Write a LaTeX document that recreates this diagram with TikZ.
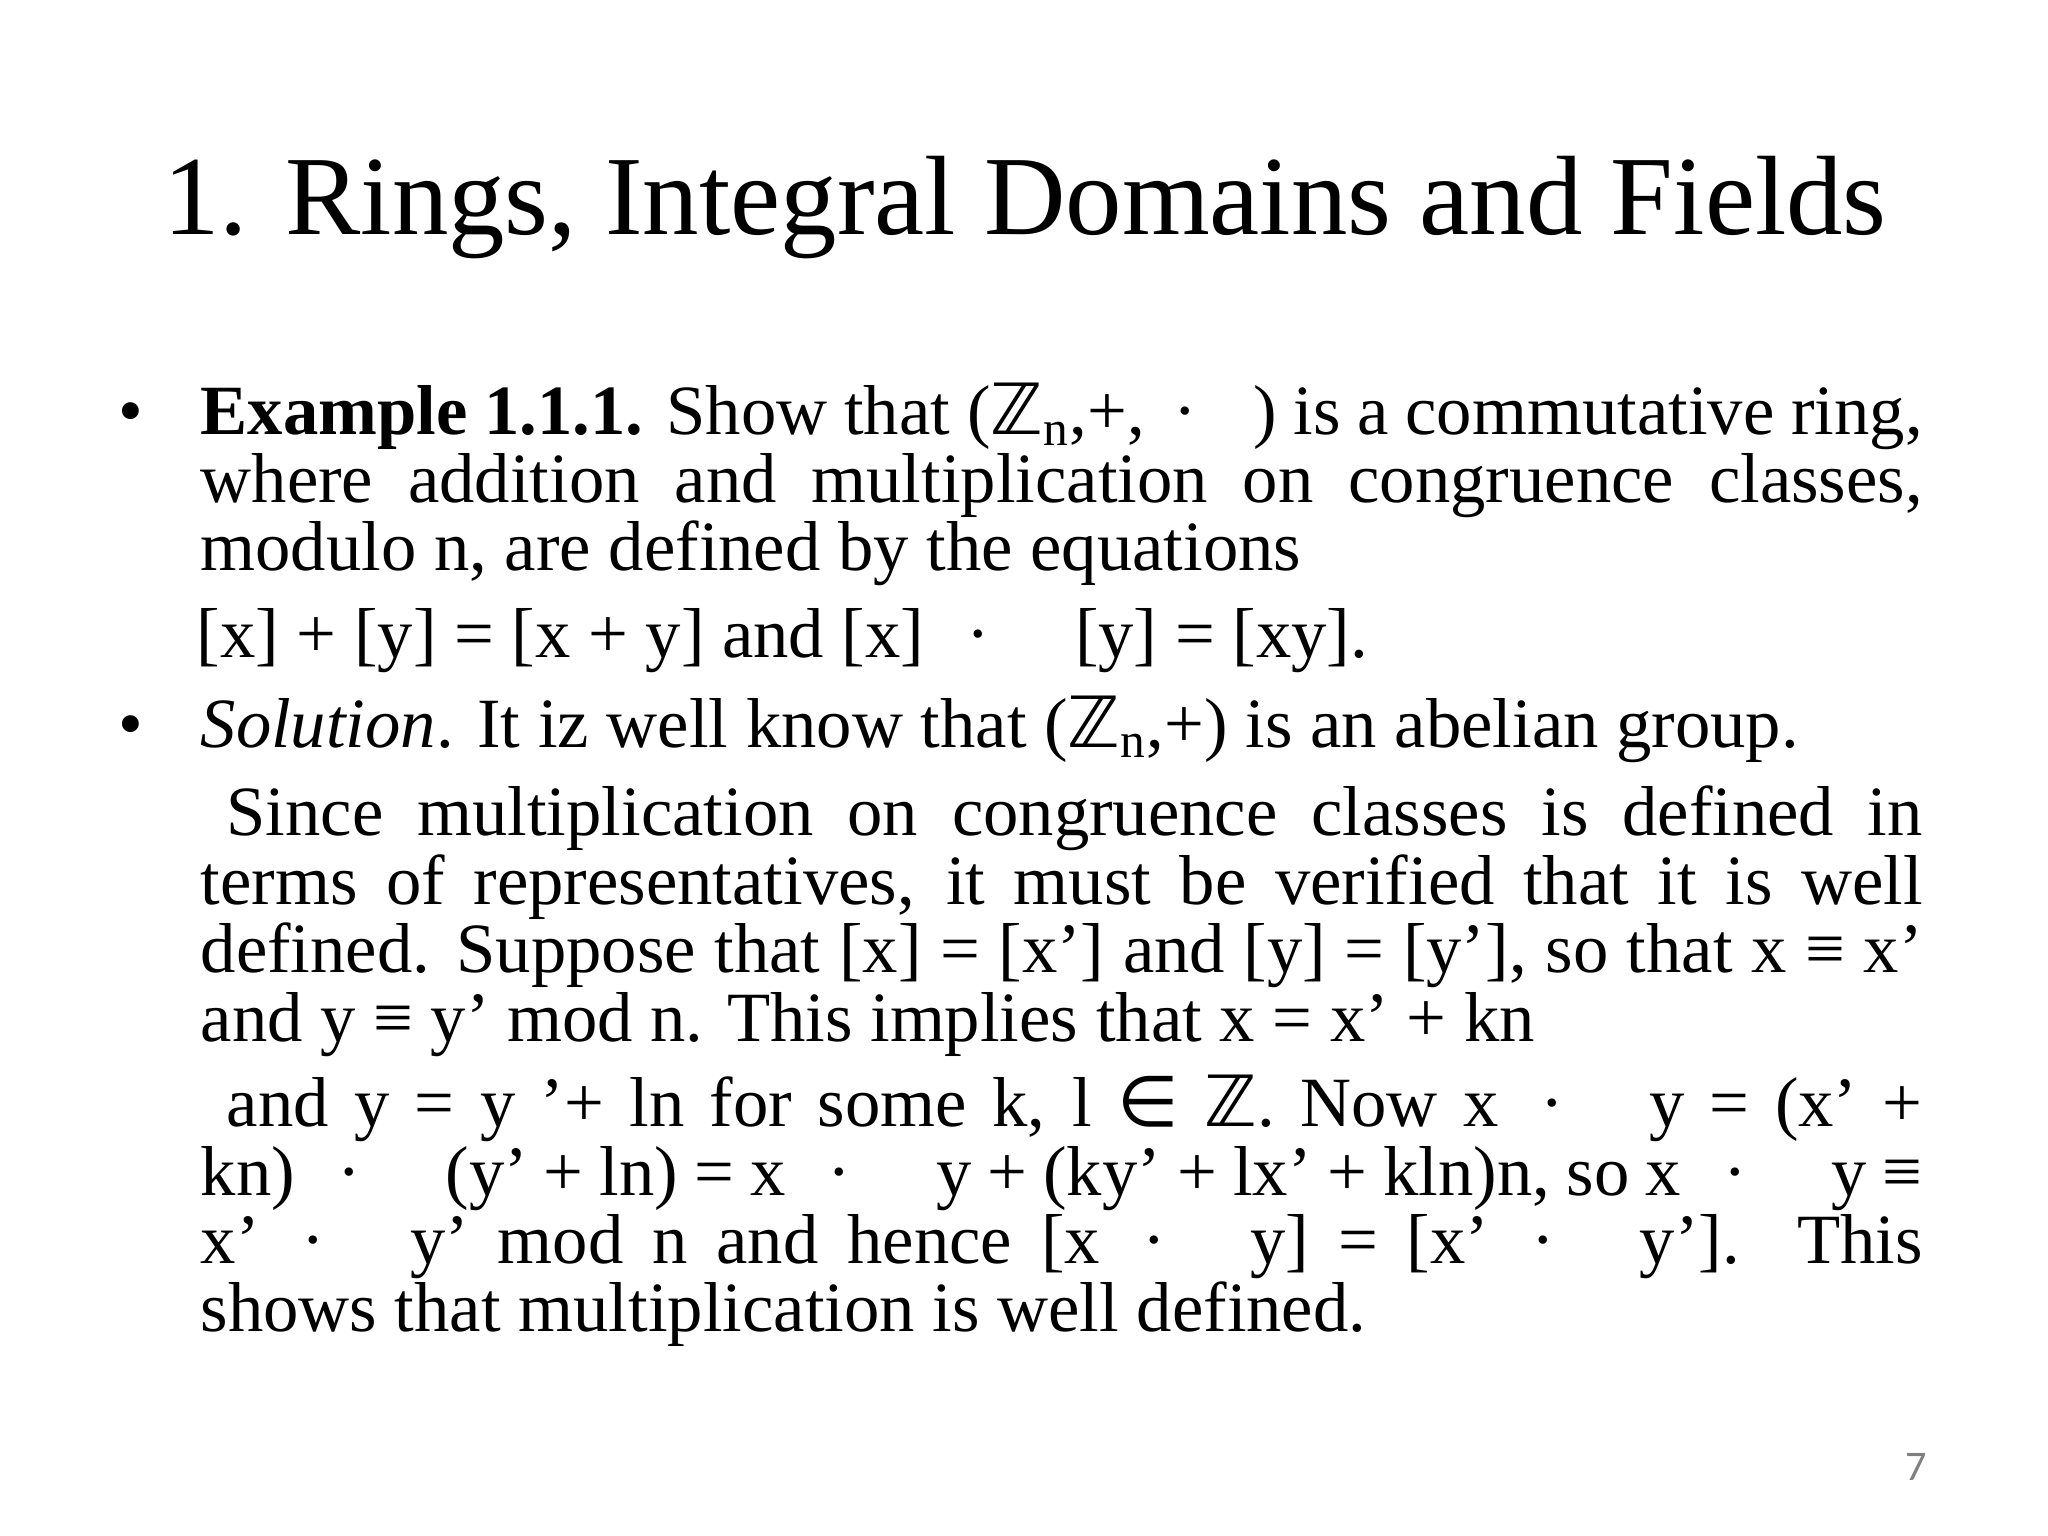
\documentclass[tikz,border=0pt]{standalone}
\usepackage{fontspec}
\setmainfont{Liberation Serif}
\newfontfamily\symf{DejaVu Sans}
\newfontfamily\pgf{Carlito}
\newcommand{\Zn}{{\symf ℤ}\textsubscript{n}}
\newcommand{\dt}{\hspace{0.6em}·\hspace{1.2em}}
\newcommand{\dts}{\hspace{0.4em}·\hspace{0.8em}}
\begin{document}
\begin{tikzpicture}[x=1cm,y=1cm,
  ln/.style={anchor=base west,inner sep=0pt,font=\fontsize{20.1}{22}\selectfont},
  bul/.style={anchor=base,inner sep=0pt,font=\fontsize{20.1}{22}\selectfont}]
\useasboundingbox (0,0) rectangle (20.48,-15.36);
\fill[white] (0,0) rectangle (20.48,-15.36);
\node[anchor=base,inner sep=0pt,font=\fontsize{32.1}{36}\selectfont] (title) at (10.25,-2.35) {1. Rings, Integral Domains and Fields};
\def\W{17.22cm}
\def\Wb{16.96cm}
\node[bul] (b1) at (1.31,-4.35) {•};
\node[ln] (l1) at (2.00,-4.35) {\makebox[\W][s]{\textbf{Example 1.1.1.} Show that (\Zn,+,\dts) is a commutative ring,}};
\node[ln] (l2) at (2.00,-5.03) {\makebox[\W][s]{where addition and multiplication on congruence classes,}};
\node[ln] (l3) at (2.00,-5.71) {modulo n, are defined by the equations};
\node[ln] (l4) at (1.96,-6.57) {[x] + [y] = [x + y] and [x]\dt[y] = [xy].};
\node[bul] (b2) at (1.31,-7.47) {•};
\node[ln] (l5) at (2.00,-7.47) {\textit{Solution}. It iz well know that (\Zn,+) is an abelian group.};
\node[ln] (l6) at (2.26,-8.36) {\makebox[\Wb][s]{Since multiplication on congruence classes is defined in}};
\node[ln] (l7) at (2.00,-9.04) {\makebox[\W][s]{terms of representatives, it must be verified that it is well}};
\node[ln] (l8) at (2.00,-9.73) {\makebox[\W][s]{defined. Suppose that [x] = [x’] and [y] = [y’], so that x ≡ x’}};
\node[ln] (l9) at (2.00,-10.41) {and y ≡ y’ mod n. This implies that x = x’ + kn};
\node[ln] (l10) at (2.26,-11.26) {\makebox[\Wb][s]{and y = y '+ ln for some k, l {\symf ∈} {\symf ℤ}. Now x\dt y = (x’ +}};
\node[ln] (l11) at (2.00,-11.95) {\makebox[\W][s]{kn)\dt(y’ + ln) = x\dt y + (ky’ + lx’ + kln)n, so x\dt y ≡}};
\node[ln] (l12) at (2.00,-12.63) {\makebox[\W][s]{x’\dt y’ mod n and hence [x\dt y] = [x’\dt y’]. This}};
\node[ln] (l13) at (2.00,-13.31) {shows that multiplication is well defined.};
\node[anchor=base,inner sep=0pt,font=\pgf\fontsize{12}{14}\selectfont,text=gray] (pn) at (19.16,-14.80) {7};
\end{tikzpicture}
\end{document}
